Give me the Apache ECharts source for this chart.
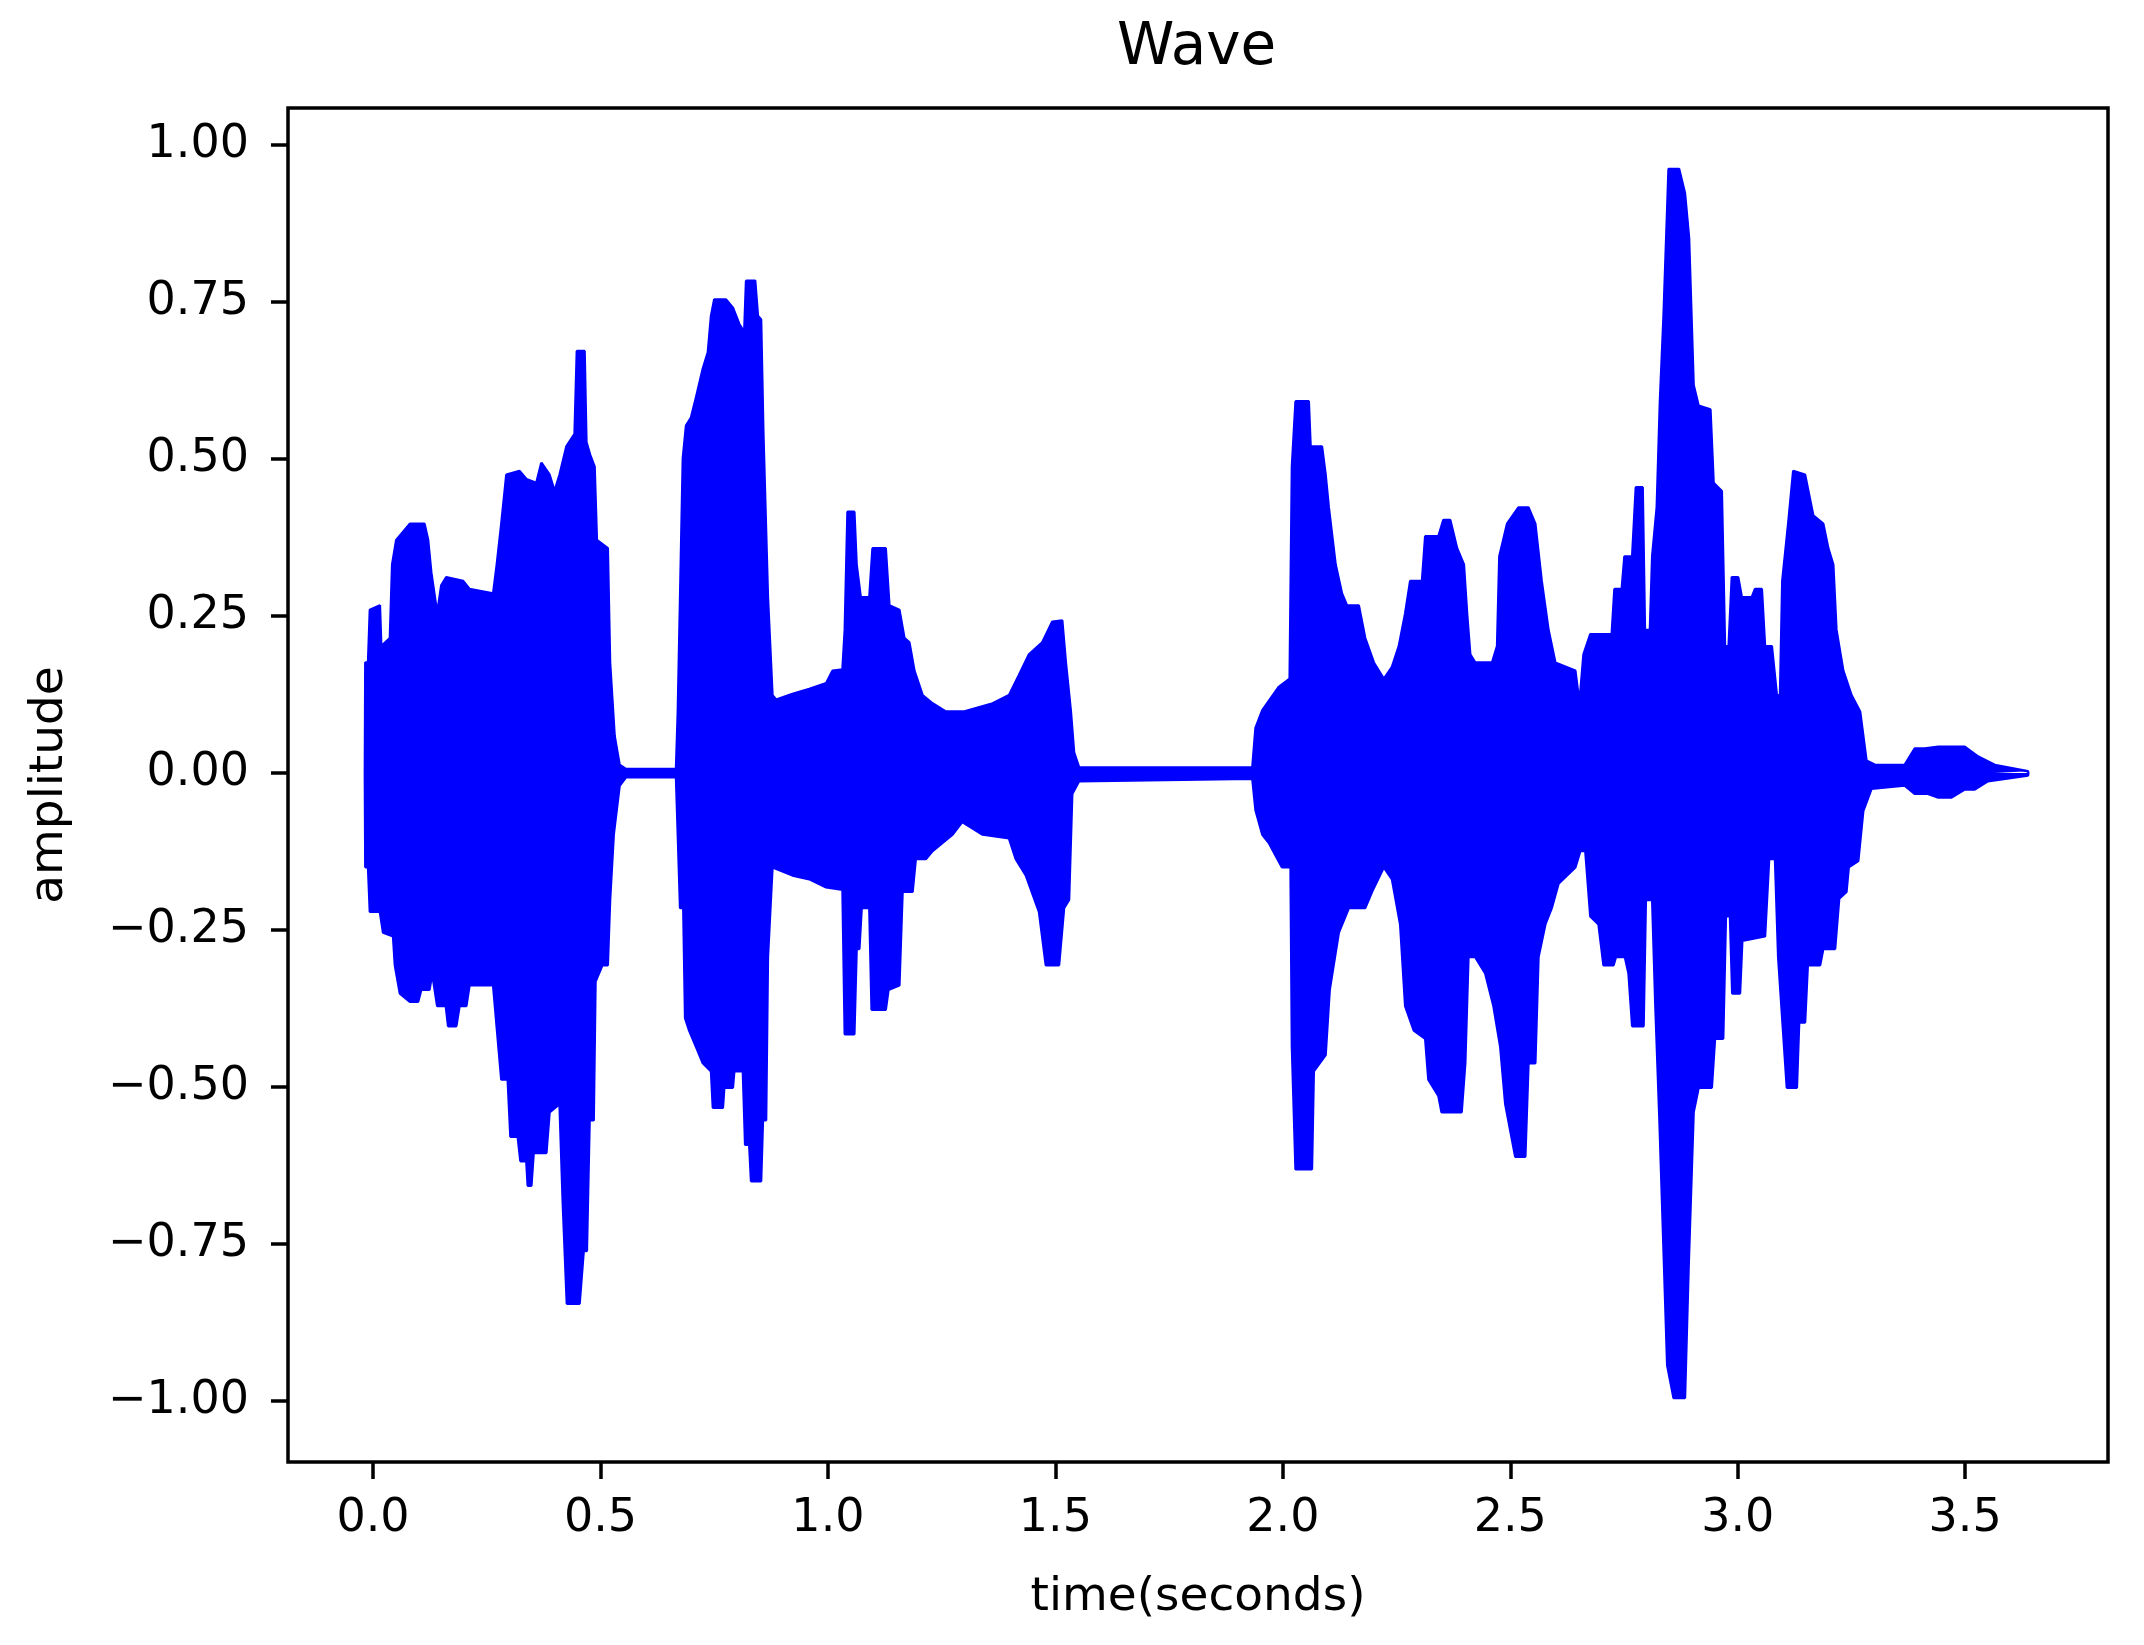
<!DOCTYPE html>
<html>
<head>
<meta charset="utf-8">
<script src="https://cdn.jsdelivr.net/npm/echarts@6/dist/echarts.min.js"></script>
<style>
html,body{margin:0;padding:0;background:#fff;}
#chart{width:2144px;height:1645px;}
</style>
</head>
<body>
<div id="chart"></div>
<script>
// Upper envelope of the waveform: [time (s), amplitude]
const upperEdge = [
[-0.018,0],[-0.017,0.176],[-0.011,0.176],[-0.007,0.26],[0.015,0.267],[0.018,0.202],[0.037,0.215],[0.042,0.332],[0.051,0.371],[0.081,0.397],[0.113,0.397],[0.121,0.371],[0.128,0.319],[0.141,0.254],[0.150,0.299],[0.161,0.312],[0.198,0.306],[0.212,0.293],[0.264,0.286],[0.272,0.332],[0.282,0.397],[0.293,0.475],[0.322,0.481],[0.337,0.468],[0.359,0.462],[0.370,0.494],[0.388,0.475],[0.399,0.449],[0.410,0.475],[0.425,0.520],[0.443,0.540],[0.448,0.672],[0.465,0.672],[0.469,0.527],[0.477,0.507],[0.487,0.488],[0.492,0.371],[0.516,0.358],[0.521,0.176],[0.531,0.059],[0.542,0.013],[0.556,0.0065],[0.666,0.0065],
[0.670,0.098],[0.675,0.280],[0.681,0.501],[0.688,0.553],[0.699,0.566],[0.710,0.598],[0.725,0.644],[0.736,0.670],[0.743,0.728],[0.750,0.754],[0.776,0.754],[0.791,0.741],[0.805,0.715],[0.816,0.702],[0.820,0.784],[0.840,0.784],[0.846,0.728],[0.853,0.722],[0.858,0.540],[0.868,0.280],[0.878,0.124],[0.886,0.117],[0.922,0.126],[0.959,0.134],[0.996,0.143],[1.010,0.163],[1.032,0.165],[1.037,0.228],[1.043,0.416],[1.058,0.416],[1.063,0.332],[1.072,0.280],[1.091,0.280],[1.098,0.358],[1.127,0.358],[1.135,0.267],[1.157,0.260],[1.168,0.215],[1.179,0.208],[1.190,0.163],[1.208,0.124],[1.230,0.111],[1.259,0.098],[1.300,0.098],[1.362,0.111],[1.398,0.124],[1.420,0.156],[1.442,0.189],[1.471,0.208],[1.493,0.241],[1.515,0.243],[1.523,0.176],[1.534,0.098],[1.541,0.033],[1.552,0.009],[1.933,0.009],
[1.940,0.072],[1.955,0.100],[1.991,0.137],[2.015,0.150],[2.020,0.488],[2.028,0.592],[2.057,0.592],[2.061,0.520],[2.086,0.520],[2.094,0.475],[2.101,0.423],[2.116,0.332],[2.130,0.286],[2.141,0.267],[2.167,0.267],[2.181,0.215],[2.200,0.176],[2.222,0.150],[2.240,0.169],[2.255,0.202],[2.269,0.254],[2.280,0.306],[2.306,0.306],[2.313,0.377],[2.342,0.377],[2.353,0.403],[2.368,0.403],[2.383,0.358],[2.398,0.332],[2.405,0.254],[2.412,0.189],[2.423,0.176],[2.460,0.176],[2.471,0.202],[2.476,0.345],[2.493,0.397],[2.518,0.423],[2.540,0.423],[2.555,0.397],[2.569,0.306],[2.584,0.228],[2.599,0.176],[2.643,0.163],[2.652,0.111],[2.661,0.189],[2.676,0.221],[2.723,0.221],[2.729,0.293],[2.745,0.293],[2.751,0.345],[2.768,0.345],[2.776,0.455],[2.791,0.455],[2.796,0.228],[2.807,0.228],[2.812,0.345],[2.822,0.423],[2.829,0.592],[2.837,0.728],[2.848,0.962],[2.871,0.962],[2.884,0.923],[2.893,0.852],[2.903,0.618],[2.914,0.585],[2.940,0.579],[2.947,0.462],[2.965,0.449],[2.972,0.202],[2.980,0.202],[2.987,0.312],[3.001,0.312],[3.009,0.280],[3.031,0.280],[3.038,0.293],[3.053,0.293],[3.060,0.202],[3.075,0.202],[3.086,0.124],[3.093,0.124],[3.098,0.306],[3.111,0.397],[3.122,0.481],[3.148,0.475],[3.166,0.410],[3.188,0.397],[3.199,0.358],[3.210,0.332],[3.217,0.228],[3.232,0.163],[3.250,0.124],[3.269,0.098],[3.283,0.020],[3.302,0.013],[3.367,0.013],[3.389,0.039],[3.411,0.039],[3.441,0.042],[3.499,0.042],[3.529,0.026],[3.565,0.013],[3.638,0.003],[3.639,0]
];

// Lower envelope of the waveform: [time (s), amplitude]
const lowerEdge = [
[-0.018,0],[-0.017,-0.150],[-0.011,-0.150],[-0.007,-0.221],[0.015,-0.221],[0.022,-0.254],[0.044,-0.260],[0.048,-0.306],[0.059,-0.351],[0.081,-0.364],[0.099,-0.364],[0.106,-0.345],[0.124,-0.345],[0.130,-0.319],[0.141,-0.371],[0.160,-0.371],[0.165,-0.403],[0.183,-0.403],[0.190,-0.371],[0.205,-0.371],[0.212,-0.338],[0.264,-0.338],[0.271,-0.397],[0.282,-0.488],[0.296,-0.488],[0.302,-0.579],[0.318,-0.579],[0.324,-0.618],[0.337,-0.618],[0.340,-0.657],[0.348,-0.657],[0.353,-0.605],[0.381,-0.605],[0.388,-0.540],[0.410,-0.527],[0.417,-0.683],[0.426,-0.845],[0.454,-0.845],[0.463,-0.761],[0.470,-0.761],[0.476,-0.553],[0.485,-0.553],[0.489,-0.332],[0.504,-0.306],[0.516,-0.306],[0.521,-0.202],[0.529,-0.098],[0.542,-0.020],[0.556,-0.0065],[0.666,-0.0065],
[0.670,-0.098],[0.675,-0.215],[0.682,-0.215],[0.686,-0.390],[0.695,-0.410],[0.710,-0.436],[0.725,-0.462],[0.743,-0.475],[0.747,-0.533],[0.769,-0.533],[0.772,-0.501],[0.791,-0.501],[0.794,-0.475],[0.813,-0.475],[0.818,-0.592],[0.827,-0.592],[0.831,-0.650],[0.853,-0.650],[0.857,-0.553],[0.864,-0.553],[0.868,-0.293],[0.878,-0.150],[0.922,-0.163],[0.959,-0.169],[0.996,-0.182],[1.032,-0.186],[1.037,-0.416],[1.058,-0.416],[1.063,-0.280],[1.069,-0.280],[1.074,-0.215],[1.091,-0.215],[1.096,-0.377],[1.127,-0.377],[1.133,-0.345],[1.157,-0.338],[1.164,-0.189],[1.186,-0.189],[1.193,-0.137],[1.215,-0.137],[1.230,-0.124],[1.274,-0.098],[1.295,-0.078],[1.311,-0.085],[1.340,-0.098],[1.398,-0.104],[1.413,-0.137],[1.435,-0.163],[1.464,-0.221],[1.479,-0.306],[1.508,-0.306],[1.519,-0.215],[1.530,-0.202],[1.537,-0.033],[1.552,-0.013],[1.933,-0.009],
[1.940,-0.059],[1.955,-0.098],[1.969,-0.111],[1.998,-0.150],[2.017,-0.150],[2.020,-0.436],[2.028,-0.631],[2.064,-0.631],[2.068,-0.475],[2.094,-0.449],[2.103,-0.345],[2.123,-0.254],[2.145,-0.215],[2.181,-0.215],[2.196,-0.189],[2.222,-0.150],[2.240,-0.169],[2.258,-0.241],[2.269,-0.371],[2.288,-0.410],[2.313,-0.423],[2.320,-0.488],[2.342,-0.514],[2.349,-0.540],[2.393,-0.540],[2.401,-0.462],[2.408,-0.293],[2.423,-0.293],[2.445,-0.319],[2.463,-0.371],[2.478,-0.436],[2.489,-0.527],[2.511,-0.611],[2.533,-0.611],[2.540,-0.462],[2.555,-0.462],[2.562,-0.293],[2.577,-0.241],[2.591,-0.215],[2.606,-0.176],[2.643,-0.150],[2.654,-0.124],[2.665,-0.124],[2.676,-0.228],[2.694,-0.241],[2.705,-0.306],[2.727,-0.306],[2.732,-0.293],[2.752,-0.293],[2.760,-0.319],[2.768,-0.403],[2.793,-0.403],[2.798,-0.202],[2.812,-0.202],[2.819,-0.371],[2.828,-0.553],[2.845,-0.943],[2.859,-0.995],[2.884,-0.995],[2.892,-0.787],[2.903,-0.540],[2.914,-0.501],[2.943,-0.501],[2.950,-0.423],[2.968,-0.423],[2.974,-0.228],[2.983,-0.228],[2.988,-0.351],[3.005,-0.351],[3.010,-0.267],[3.060,-0.260],[3.069,-0.137],[3.082,-0.137],[3.089,-0.293],[3.108,-0.501],[3.130,-0.501],[3.135,-0.397],[3.148,-0.397],[3.154,-0.306],[3.181,-0.306],[3.188,-0.280],[3.214,-0.280],[3.223,-0.200],[3.239,-0.189],[3.244,-0.150],[3.265,-0.140],[3.276,-0.060],[3.294,-0.025],[3.367,-0.020],[3.389,-0.033],[3.418,-0.033],[3.441,-0.039],[3.470,-0.039],[3.499,-0.026],[3.521,-0.026],[3.550,-0.013],[3.638,-0.004],[3.639,0]
];

const xTicks = [0, 0.5, 1.0, 1.5, 2.0, 2.5, 3.0, 3.5];
const yTicks = [-1.0, -0.75, -0.5, -0.25, 0, 0.25, 0.5, 0.75, 1.0];

const FONT = 'DejaVu Sans';
const WAVE = '#0000ff';

const chart = echarts.init(document.getElementById('chart'), null, {renderer: 'canvas'});

function yFmt(v) {
  const s = Math.abs(v).toFixed(2);
  return (v < -1e-9 ? '\u2212' : '') + s;
}
function xFmt(v) {
  return v.toFixed(1);
}

const option = {
  animation: false,
  backgroundColor: '#ffffff',
  title: {
    text: 'Wave',
    left: 1117,
    top: 20,
    padding: 0,
    textStyle: {fontFamily: FONT, fontSize: 58, fontWeight: 'normal', color: '#000'}
  },
  grid: {
    left: 288, top: 108, right: 36, bottom: 183,
    show: true, borderColor: '#000', borderWidth: 3.5, backgroundColor: 'transparent',
    containLabel: false
  },
  xAxis: {
    type: 'value',
    position: 'bottom',
    min: -0.187, max: 3.814,
    name: 'time(seconds)',
    nameLocation: 'middle',
    nameGap: 112,
    nameTextStyle: {fontFamily: FONT, fontSize: 47, color: '#000'},
    axisLine: {show: false, onZero: false},
    splitLine: {show: false},
    axisTick: {show: true, customValues: xTicks, length: 17, lineStyle: {color: '#000', width: 3.5}},
    axisLabel: {customValues: xTicks, formatter: xFmt, fontFamily: FONT, fontSize: 46, color: '#000', margin: 34}
  },
  yAxis: {
    type: 'value',
    position: 'left',
    min: -1.097, max: 1.059,
    name: 'amplitude',
    nameLocation: 'middle',
    nameGap: 215,
    nameTextStyle: {fontFamily: FONT, fontSize: 47, color: '#000'},
    axisLine: {show: false, onZero: false},
    splitLine: {show: false},
    axisTick: {show: true, customValues: yTicks, length: 17, lineStyle: {color: '#000', width: 3.5}},
    axisLabel: {customValues: yTicks, formatter: yFmt, fontFamily: FONT, fontSize: 46, color: '#000', margin: 39}
  },
  series: [
    {
      type: 'line', data: upperEdge, showSymbol: false, symbol: 'none', smooth: false,
      lineStyle: {color: WAVE, width: 2.5}, areaStyle: {color: WAVE, opacity: 1, origin: 'auto'},
      z: 3
    },
    {
      type: 'line', data: lowerEdge, showSymbol: false, symbol: 'none', smooth: false,
      lineStyle: {color: WAVE, width: 2.5}, areaStyle: {color: WAVE, opacity: 1, origin: 'auto'},
      z: 3
    }
  ]
};
chart.setOption(option);
</script>
</body>
</html>
